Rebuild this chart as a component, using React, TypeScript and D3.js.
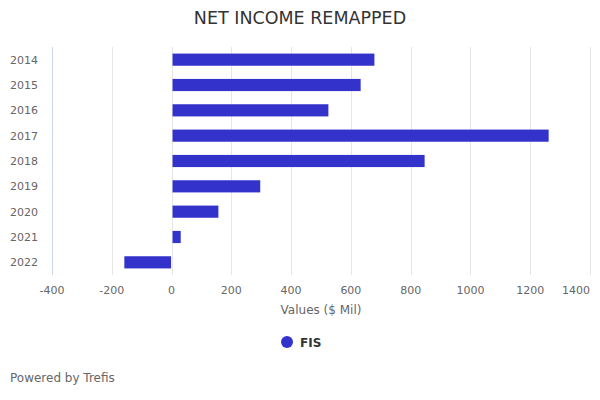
import React, { useRef, useEffect } from "react";
import * as d3 from "d3";

const years = ["2014", "2015", "2016", "2017", "2018", "2019", "2020", "2021", "2022"];
const netIncome = [677, 631, 523, 1260, 845, 295, 155, 29, -158];
const xTicks = [-400, -200, 0, 200, 400, 600, 800, 1000, 1200, 1400];
const seriesName = "FIS";

const App: React.FC = () => {
  const svgRef = useRef<SVGSVGElement>(null);
  const width = 600;
  const height = 400;

  useEffect(() => {
    if (!svgRef.current) return;
    const svg = d3.select(svgRef.current);
    svg.selectAll("*").remove();
    const font = "DejaVu Sans, sans-serif";
    const margin = { top: 47, right: 10, bottom: 125, left: 52 };
    const color = "#3333cc";

    const x = d3
      .scaleLinear()
      .domain([-400, 1400])
      .range([margin.left, width - margin.right]);
    const y = d3
      .scaleBand()
      .domain(years)
      .range([margin.top, height - margin.bottom])
      .paddingInner(0.52)
      .paddingOuter(0.26);

    // title
    svg
      .append("text")
      .attr("x", width / 2)
      .attr("y", 24)
      .attr("text-anchor", "middle")
      .attr("font-family", font)
      .attr("font-size", 17.5)
      .attr("fill", "#333333")
      .text("NET INCOME REMAPPED");

    // gridlines
    svg
      .append("g")
      .selectAll("line")
      .data(xTicks)
      .enter()
      .append("line")
      .attr("x1", (d) => Math.round(x(d)) + 0.5)
      .attr("x2", (d) => Math.round(x(d)) + 0.5)
      .attr("y1", margin.top)
      .attr("y2", height - margin.bottom)
      .attr("stroke", "#e6e6e6")
      .attr("stroke-width", 1);

    // left axis line
    svg
      .append("line")
      .attr("x1", margin.left + 0.5)
      .attr("x2", margin.left + 0.5)
      .attr("y1", margin.top)
      .attr("y2", height - margin.bottom)
      .attr("stroke", "#ccd6eb");

    // bars
    svg
      .append("g")
      .selectAll("rect")
      .data(netIncome)
      .enter()
      .append("rect")
      .attr("x", (d) => (d >= 0 ? x(0) + 1 : x(d)))
      .attr("y", (_d, i) => y(years[i]) ?? 0)
      .attr("width", (d) => Math.max(1, Math.abs(x(d) - x(0)) - 0.5))
      .attr("height", y.bandwidth())
      .attr("fill", color);

    // category labels
    svg
      .append("g")
      .selectAll("text")
      .data(years)
      .enter()
      .append("text")
      .attr("x", 38)
      .attr("y", (d) => (y(d) ?? 0) + y.bandwidth() / 2 + 4)
      .attr("text-anchor", "end")
      .attr("font-family", font)
      .attr("font-size", 11)
      .attr("fill", "#666666")
      .text((d) => d);

    // x tick labels
    svg
      .append("g")
      .selectAll("text")
      .data(xTicks)
      .enter()
      .append("text")
      .attr("x", (d) => (d === 1400 ? x(d) - 14 : x(d)))
      .attr("y", height - margin.bottom + 19)
      .attr("text-anchor", "middle")
      .attr("font-family", font)
      .attr("font-size", 11)
      .attr("fill", "#666666")
      .text((d) => String(d));

    // axis title
    svg
      .append("text")
      .attr("x", (margin.left + width - margin.right) / 2)
      .attr("y", 314)
      .attr("text-anchor", "middle")
      .attr("font-family", font)
      .attr("font-size", 12)
      .attr("fill", "#666666")
      .text("Values ($ Mil)");

    // legend
    const legend = svg.append("g").attr("transform", "translate(287, 342)");
    legend.append("circle").attr("r", 6).attr("fill", color);
    legend
      .append("text")
      .attr("x", 13)
      .attr("y", 5)
      .attr("font-family", font)
      .attr("font-size", 12)
      .attr("font-weight", "bold")
      .attr("fill", "#333333")
      .text(seriesName);

    // credits
    svg
      .append("text")
      .attr("x", 10)
      .attr("y", 382)
      .attr("font-family", font)
      .attr("font-size", 12)
      .attr("fill", "#666666")
      .text("Powered by Trefis");
  }, []);

  return (
    <svg
      ref={svgRef}
      width={width}
      height={height}
      style={{ position: "absolute", left: 0, top: 0, background: "#ffffff" }}
    ></svg>
  );
};

export default App;
